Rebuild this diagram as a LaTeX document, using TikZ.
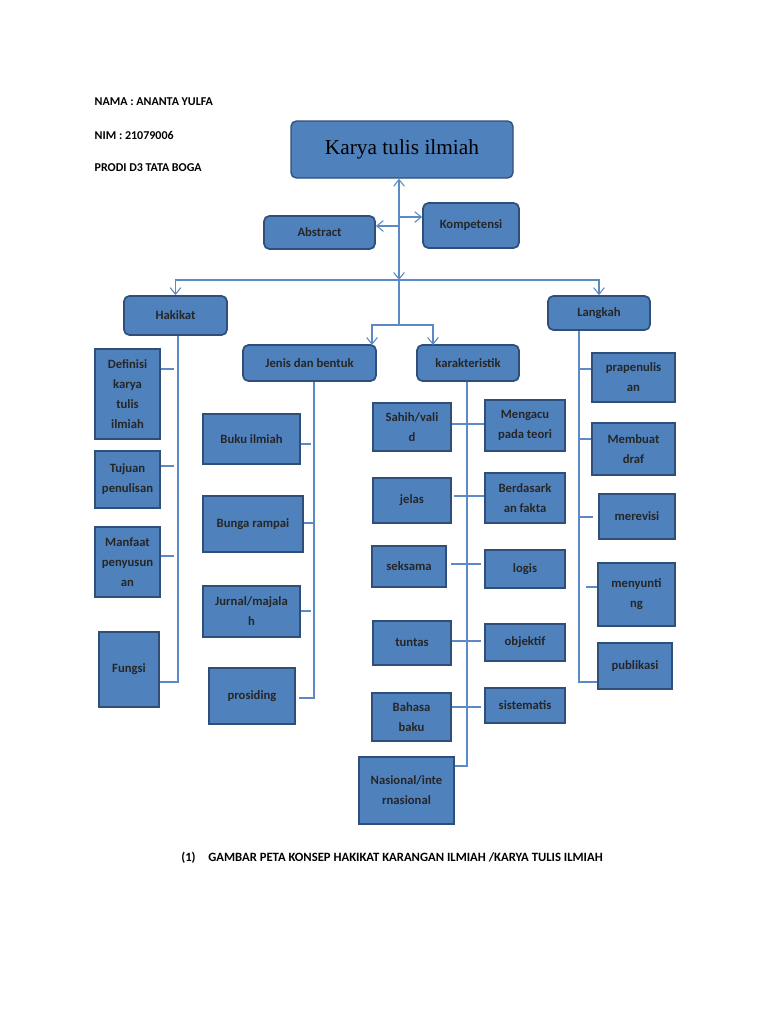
\documentclass[tikz,border=0pt]{standalone}
\usepackage{fontspec}
\setmainfont{Carlito}
\newfontfamily\tms{Liberation Serif}
\usetikzlibrary{arrows.meta}
\definecolor{bfill}{HTML}{4F81BD}
\definecolor{bdraw}{HTML}{2F4F7A}
\definecolor{lnc}{HTML}{5B8AC6}
\tikzset{
 box/.style={draw=bdraw,line width=1.3pt,fill=bfill,align=center,inner sep=1pt,
   font=\fontsize{9.5}{15}\selectfont\bfseries,text=black!85},
 rbox/.style={box,rounded corners=4pt},
 ln/.style={draw=lnc,line width=0.8pt},
 ar/.style={ln,-{Straight Barb[length=5pt,width=8pt]}},
 hdr/.style={anchor=west,font=\fontsize{9}{11}\selectfont\bfseries}
}
\newcommand\bx[7][]{%
 \pgfmathsetmacro\bw{(#5-#3)*0.75}\pgfmathsetmacro\bh{(#6-#4)*0.75}%
 \node[box,#1,minimum width=\bw pt,minimum height=\bh pt] (#2) at ({(#3+#5)/2},{(#4+#6)/2}) {#7};}
\begin{document}
\begin{tikzpicture}[x=0.75pt,y=-0.75pt]
\useasboundingbox (0,0) rectangle (768,1024);
\node[hdr] (h1) at (90,102) {NAMA : ANANTA YULFA};
\node[hdr] (h2) at (90,135) {NIM : 21079006};
\node[hdr] (h3) at (90,168) {PRODI D3 TATA BOGA};
\node[font=\fontsize{9.5}{11}\selectfont\bfseries] (cap) at (392,858) {(1)\quad GAMBAR PETA KONSEP HAKIKAT KARANGAN ILMIAH /KARYA TULIS ILMIAH};

\bx[rbox,font=\tms\fontsize{16}{18}\selectfont,text=black,line width=1pt]{title}{291}{121}{513}{178}{Karya tulis ilmiah}
\bx[rbox]{abs}{264}{216}{375}{249}{Abstract}
\bx[rbox]{kom}{423}{203}{519}{248}{Kompetensi}
\bx[rbox]{hak}{124}{296}{227}{335}{Hakikat}
\bx[rbox]{lan}{548}{296}{650}{330}{Langkah}
\bx[rbox]{jen}{243}{345}{376}{381}{Jenis dan bentuk}
\bx[rbox]{kar}{417}{345}{519}{381}{karakteristik}

\bx{def}{95}{349}{160}{439}{Definisi\\karya\\tulis\\ilmiah}
\bx{tuj}{95}{451}{160}{508}{Tujuan\\penulisan}
\bx{man}{95}{527}{160}{597}{Manfaat\\penyusun\\an}
\bx{fun}{99}{632}{159}{707}{Fungsi}

\bx{buk}{203}{414}{300}{464}{Buku ilmiah}
\bx{bun}{203}{496}{303}{552}{Bunga rampai}
\bx{jur}{203}{586}{300}{637}{Jurnal/majala\\h}
\bx{pro}{209}{668}{295}{724}{prosiding}

\bx{sah}{373}{403}{451}{451}{Sahih/vali\\d}
\bx{men}{485}{400}{565}{451}{Mengacu\\pada teori}
\bx{jel}{373}{478}{451}{523}{jelas}
\bx{ber}{485}{473}{565}{523}{Berdasark\\an fakta}
\bx{sek}{372}{546}{446}{587}{seksama}
\bx{log}{485}{550}{565}{588}{logis}
\bx{tun}{373}{621}{451}{665}{tuntas}
\bx{obj}{485}{624}{565}{661}{objektif}
\bx{bah}{372}{693}{451}{741}{Bahasa\\baku}
\bx{sis}{485}{688}{565}{723}{sistematis}
\bx{nas}{359}{757}{454}{824}{Nasional/inte\\rnasional}

\bx{pra}{592}{353}{675}{402}{prapenulis\\an}
\bx{mem}{592}{423}{675}{475}{Membuat\\draf}
\bx{rev}{599}{494}{675}{539}{merevisi}
\bx{nyu}{598}{563}{675}{626}{menyunti\\ng}
\bx{pub}{598}{643}{672}{689}{publikasi}

% top connectors
\coordinate (t1) at (399,280);
\coordinate (t2) at (399,325);
\coordinate (t0) at (399,262);
\draw[ar] (t1) -- (title.south-|t1);
\draw[ar] (399,226) -- (abs.east|-0,226);
\draw[ar] (399,217) -- (kom.west|-0,217);
\draw[ar] (t0) -- (t1);
\draw[ln] (t1) -- (t2);
\draw[ar] (t1) -| (hak.north);
\draw[ar] (t1) -| (lan.north);
\draw[ar] (t2) -| (372,345);
\draw[ar] (t2) -| (433,345);

% Hakikat
\coordinate (hb) at (178,682);
\draw[ln] (hak.south-|hb) -- (hb) -- (fun.east|-hb);
\draw[ln] (def.east|-0,369) -- (174,369);
\draw[ln] (tuj.east|-0,466) -- (174,466);
\draw[ln] (man.east|-0,556) -- (174,556);
% Jenis
\coordinate (jb) at (314,698);
\draw[ln] (jen.south-|jb) -- (jb) -- (299,698);
\draw[ln] (buk.east|-0,444) -- (311,444);
\draw[ln] (bun.east|-0,523) -- (314,523);
\draw[ln] (jur.east|-0,611) -- (311,611);
% karakteristik
\coordinate (kb) at (467,766);
\draw[ln] (kar.south-|kb) -- (kb) -- (nas.east|-kb);
\draw[ln] (sah.east|-0,424) -- (men.west|-0,424);
\draw[ln] (454,496) -- (ber.west|-0,496);
\draw[ln] (451,564) -- (481,564);
\draw[ln] (tun.east|-0,641) -- (481,641);
\draw[ln] (bah.east|-0,707) -- (481,707);
% Langkah
\coordinate (lb) at (579,682);
\draw[ln] (lan.south-|lb) -- (lb) -- (pub.west|-lb);
\draw[ln] (lb|-0,369) -- (pra.west|-0,369);
\draw[ln] (lb|-0,439) -- (mem.west|-0,439);
\draw[ln] (lb|-0,517) -- (593,517);
\draw[ln] (586,587) -- (nyu.west|-0,587);
\end{tikzpicture}
\end{document}
